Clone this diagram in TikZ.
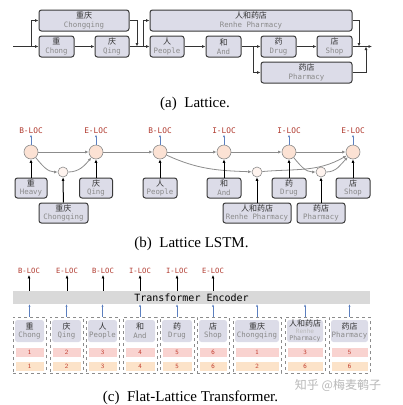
\documentclass[tikz,border=0pt]{standalone}
\usepackage{fontspec}
\setmainfont{Liberation Serif}
\setmonofont{DejaVu Sans Mono}
\newfontfamily\cjk{Noto Sans CJK SC}
\usetikzlibrary{arrows.meta}
\definecolor{boxfill}{HTML}{DCDCE8}
\definecolor{boxline}{HTML}{3A3A3A}
\definecolor{cjkc}{HTML}{333333}
\definecolor{engc}{HTML}{8A8A8A}
\definecolor{linec}{HTML}{333333}
\definecolor{grayline}{HTML}{8C8C8C}
\definecolor{circfill}{HTML}{FCE2D4}
\definecolor{labred}{HTML}{B0392E}
\definecolor{blu}{HTML}{5B7FBF}
\definecolor{pinkf}{HTML}{F9D3D0}
\definecolor{orangef}{HTML}{FCE3C9}
\definecolor{numc}{HTML}{C0392B}
\definecolor{barf}{HTML}{D9D9D9}
\newcommand{\wt}[2]{{\cjk\fontsize{8}{9}\selectfont\color{cjkc}#1}\\{\ttfamily\color{engc}#2}}
\tikzset{
  wbox/.style={draw=boxline, fill=boxfill, rounded corners=2.5pt, line width=1pt, inner sep=0pt, align=center, font=\fontsize{7.4}{8.8}\selectfont},
  aline/.style={draw=linec, line width=0.8pt, -{Latex[length=3.5pt,width=3pt]}},
  bline/.style={draw=grayline, line width=0.8pt, -{Latex[length=3.5pt,width=3pt]}},
  kline/.style={draw=black, line width=1pt, -{Latex[length=3.5pt,width=3pt]}},
  bigc/.style={circle, draw=grayline, fill=circfill, line width=0.6pt, minimum size=14pt, inner sep=0pt},
  smc/.style={circle, draw=grayline, fill=circfill!40, line width=0.6pt, minimum size=10pt, inner sep=0pt},
  lab/.style={font=\ttfamily\fontsize{7.8}{8}\selectfont, text=labred, inner sep=1pt},
  blarr/.style={draw=blu, line width=0.6pt, -{Latex[length=2.5pt,width=2.2pt]}},
  grp/.style={draw=grayline, dashed, line width=0.8pt, inner sep=0pt},
  tbox/.style={fill=boxfill, rounded corners=2.5pt, inner sep=0pt, align=center, font=\fontsize{7.4}{8.8}\selectfont},
  hbox/.style={fill=pinkf, inner sep=0pt, font=\sffamily\fontsize{6.5}{7}\selectfont, text=numc},
  obox/.style={fill=orangef, inner sep=0pt, font=\sffamily\fontsize{6.5}{7}\selectfont, text=numc},
  captxt/.style={font=\fontsize{15}{16}\selectfont, inner sep=0pt}
}
\begin{document}
\begin{tikzpicture}[x=1pt,y=-1pt]
\useasboundingbox (0,0) rectangle (403,405);
% ---------------- (a) ----------------
\node[wbox, minimum width=35, minimum height=21] (a-chong) at (56.5,46.5) {\wt{重}{Chong}};
\node[wbox, minimum width=34, minimum height=21] (a-qing) at (112,46.5) {\wt{庆}{Qing}};
\node[wbox, minimum width=34, minimum height=21] (a-people) at (167,46.5) {\wt{人}{People}};
\node[wbox, minimum width=35, minimum height=21] (a-and) at (223.5,46.5) {\wt{和}{And}};
\node[wbox, minimum width=35, minimum height=21] (a-drug) at (278.5,46.5) {\wt{药}{Drug}};
\node[wbox, minimum width=35, minimum height=21] (a-shop) at (334.5,46.5) {\wt{店}{Shop}};
\node[wbox, minimum width=90, minimum height=21] (a-cq) at (84,20.5) {\wt{重庆}{Chongqing}};
\node[wbox, minimum width=202, minimum height=21] (a-renhe) at (251,20.5) {\wt{人和药店}{Renhe Pharmacy}};
\node[wbox, minimum width=91, minimum height=21] (a-pharm) at (306.5,72.5) {\wt{药店}{Pharmacy}};
\coordinate (a-in) at (13,46.5);
\coordinate (a-b1) at (31,46.5);
\coordinate (a-b2) at (143,46.5);
\coordinate (a-b3) at (253,46.5);
\coordinate (a-j1) at (137,46.5);
\coordinate (a-j2) at (359,46.5);
\coordinate (a-j3) at (366,46.5);
\coordinate (a-out) at (372,46.5);
\draw[aline] (a-in) -- (a-chong);
\draw[aline] (a-b1) |- (a-cq);
\draw[aline] (a-chong) -- (a-qing);
\draw[aline] (a-qing) -- (a-people);
\draw[aline] (a-b2) |- (a-renhe);
\draw[aline] (a-cq) -| (a-j1);
\draw[aline] (a-people) -- (a-and);
\draw[aline] (a-and) -- (a-drug);
\draw[aline] (a-b3) |- (a-pharm);
\draw[aline] (a-drug) -- (a-shop);
\draw[aline] (a-renhe) -| (a-j2);
\draw[aline] (a-pharm) -| (a-j3);
\draw[aline] (a-shop) -- (a-out);
\node[captxt] (capa) at (195,104) {(a)\ \ Lattice.};
% ---------------- (b) ----------------
\foreach \i/\x/\t in {1/31/B-LOC,2/96/E-LOC,3/160/B-LOC,4/224/I-LOC,5/289/I-LOC,6/353/E-LOC}{
  \node[bigc] (c\i) at (\x,152) {};
  \node[lab] (bl\i) at (\x,130.5) {\t};
  \draw[blarr] (c\i) -- (bl\i);
}
\node[smc] (s1) at (63,172) {};
\node[smc] (s2) at (257,172) {};
\node[smc] (s3) at (321,172) {};
\draw[bline] (c1) -- (c2);
\draw[bline] (c2) -- (c3);
\draw[bline] (c3) -- (c4);
\draw[bline] (c4) -- (c5);
\draw[bline] (c5) -- (c6);
\draw[bline] (c1) to[out=-50,in=180] (s1);
\draw[bline] (s1) to[out=0,in=-130] (c2);
\draw[bline] (c3) to[out=-25,in=178] (s2);
\draw[bline] (s2) to[out=5,in=-150] (c6);
\draw[bline] (c5) to[out=-50,in=180] (s3);
\draw[bline] (s3) to[out=0,in=-135] (c6);
\node[wbox, minimum width=32, minimum height=20] (b-heavy) at (31,188) {\wt{重}{Heavy}};
\node[wbox, minimum width=33, minimum height=20] (b-qing) at (96,188) {\wt{庆}{Qing}};
\node[wbox, minimum width=34, minimum height=20] (b-people) at (160,188) {\wt{人}{People}};
\node[wbox, minimum width=34, minimum height=20] (b-and) at (224,188) {\wt{和}{And}};
\node[wbox, minimum width=34, minimum height=20] (b-drug) at (289,188) {\wt{药}{Drug}};
\node[wbox, minimum width=34, minimum height=20] (b-shop) at (353,188) {\wt{店}{Shop}};
\node[wbox, minimum width=49, minimum height=20] (b-cq) at (63.5,213) {\wt{重庆}{Chongqing}};
\node[wbox, minimum width=68, minimum height=20] (b-renhe) at (257,213) {\wt{人和药店}{Renhe Pharmacy}};
\node[wbox, minimum width=48, minimum height=20] (b-pharm) at (321,213) {\wt{药店}{Pharmacy}};
\draw[kline] (b-heavy) -- (c1);
\draw[kline] (b-qing) -- (c2);
\draw[kline] (b-people) -- (c3);
\draw[kline] (b-and) -- (c4);
\draw[kline] (b-drug) -- (c5);
\draw[kline] (b-shop) -- (c6);
\draw[kline] (b-cq) -- (s1);
\draw[kline] (b-renhe) -- (s2);
\draw[kline] (b-pharm) -- (s3);
\node[captxt] (capb) at (191.5,244) {(b)\ \ Lattice LSTM.};
% ---------------- (c) ----------------
\node[fill=barf, minimum width=357, minimum height=13, inner sep=0pt, font=\ttfamily\fontsize{10}{11}\selectfont] (bar) at (191.5,297.5) {Transformer Encoder};
\foreach \i/\x/\t in {1/29/B-LOC,2/67/E-LOC,3/103/B-LOC,4/140/I-LOC,5/177/I-LOC,6/213/E-LOC}{
  \node[lab, font=\ttfamily\fontsize{7.2}{8}\selectfont] (cl\i) at (\x,271) {\t};
  \draw[kline, line width=0.7pt] (cl\i |- bar.north) -- (cl\i);
}
\foreach \i/\x/\w/\c/\e/\h/\t in {1/29.5/33/重/Chong/1/1, 2/66.5/33/庆/Qing/2/2, 3/102.5/33/人/People/3/3, 4/140/34/和/And/4/4, 5/177/34/药/Drug/5/5, 6/213/32/店/Shop/6/6, 7/257/48/重庆/Chongqing/1/2, 9/349.5/41/药店/Pharmacy/5/6}{
  \node[grp, minimum width=\w, minimum height=56] (g\i) at (\x,345) {};
  \node[tbox, minimum width=\w-4, minimum height=22] (t\i) at (\x,331) {\wt{\c}{\e}};
  \node[hbox, minimum width=\w-5, minimum height=8.5] (h\i) at (\x,352.5) {\h};
  \node[obox, minimum width=\w-5, minimum height=8.5] (o\i) at (\x,366.5) {\t};
  \draw[blarr] (g\i.north) -- (g\i.north |- bar.south);
}
\node[grp, minimum width=40, minimum height=56] (g8) at (305,345) {};
\node[tbox, minimum width=36, minimum height=22, font=\fontsize{7}{7}\selectfont] (t8) at (305,331) {{\cjk\fontsize{8}{8}\selectfont\color{cjkc}人和药店}\\{\ttfamily\color{engc!60}\fontsize{6}{6}\selectfont Renhe}\\{\ttfamily\color{engc}\fontsize{6.5}{7}\selectfont Pharmacy}};
\node[hbox, minimum width=35, minimum height=8.5] (h8) at (305,352.5) {3};
\node[obox, minimum width=35, minimum height=8.5] (o8) at (305,366.5) {6};
\draw[blarr] (g8.north) -- (g8.north |- bar.south);
\node[captxt] (capc) at (190.5,398) {(c)\ \ Flat-Lattice Transformer.};
\node[font=\cjk\fontsize{12}{13}\selectfont, text=black!28, inner sep=0pt] (wm) at (338,385) {知乎 @梅麦鹌子};
\end{tikzpicture}
\end{document}
